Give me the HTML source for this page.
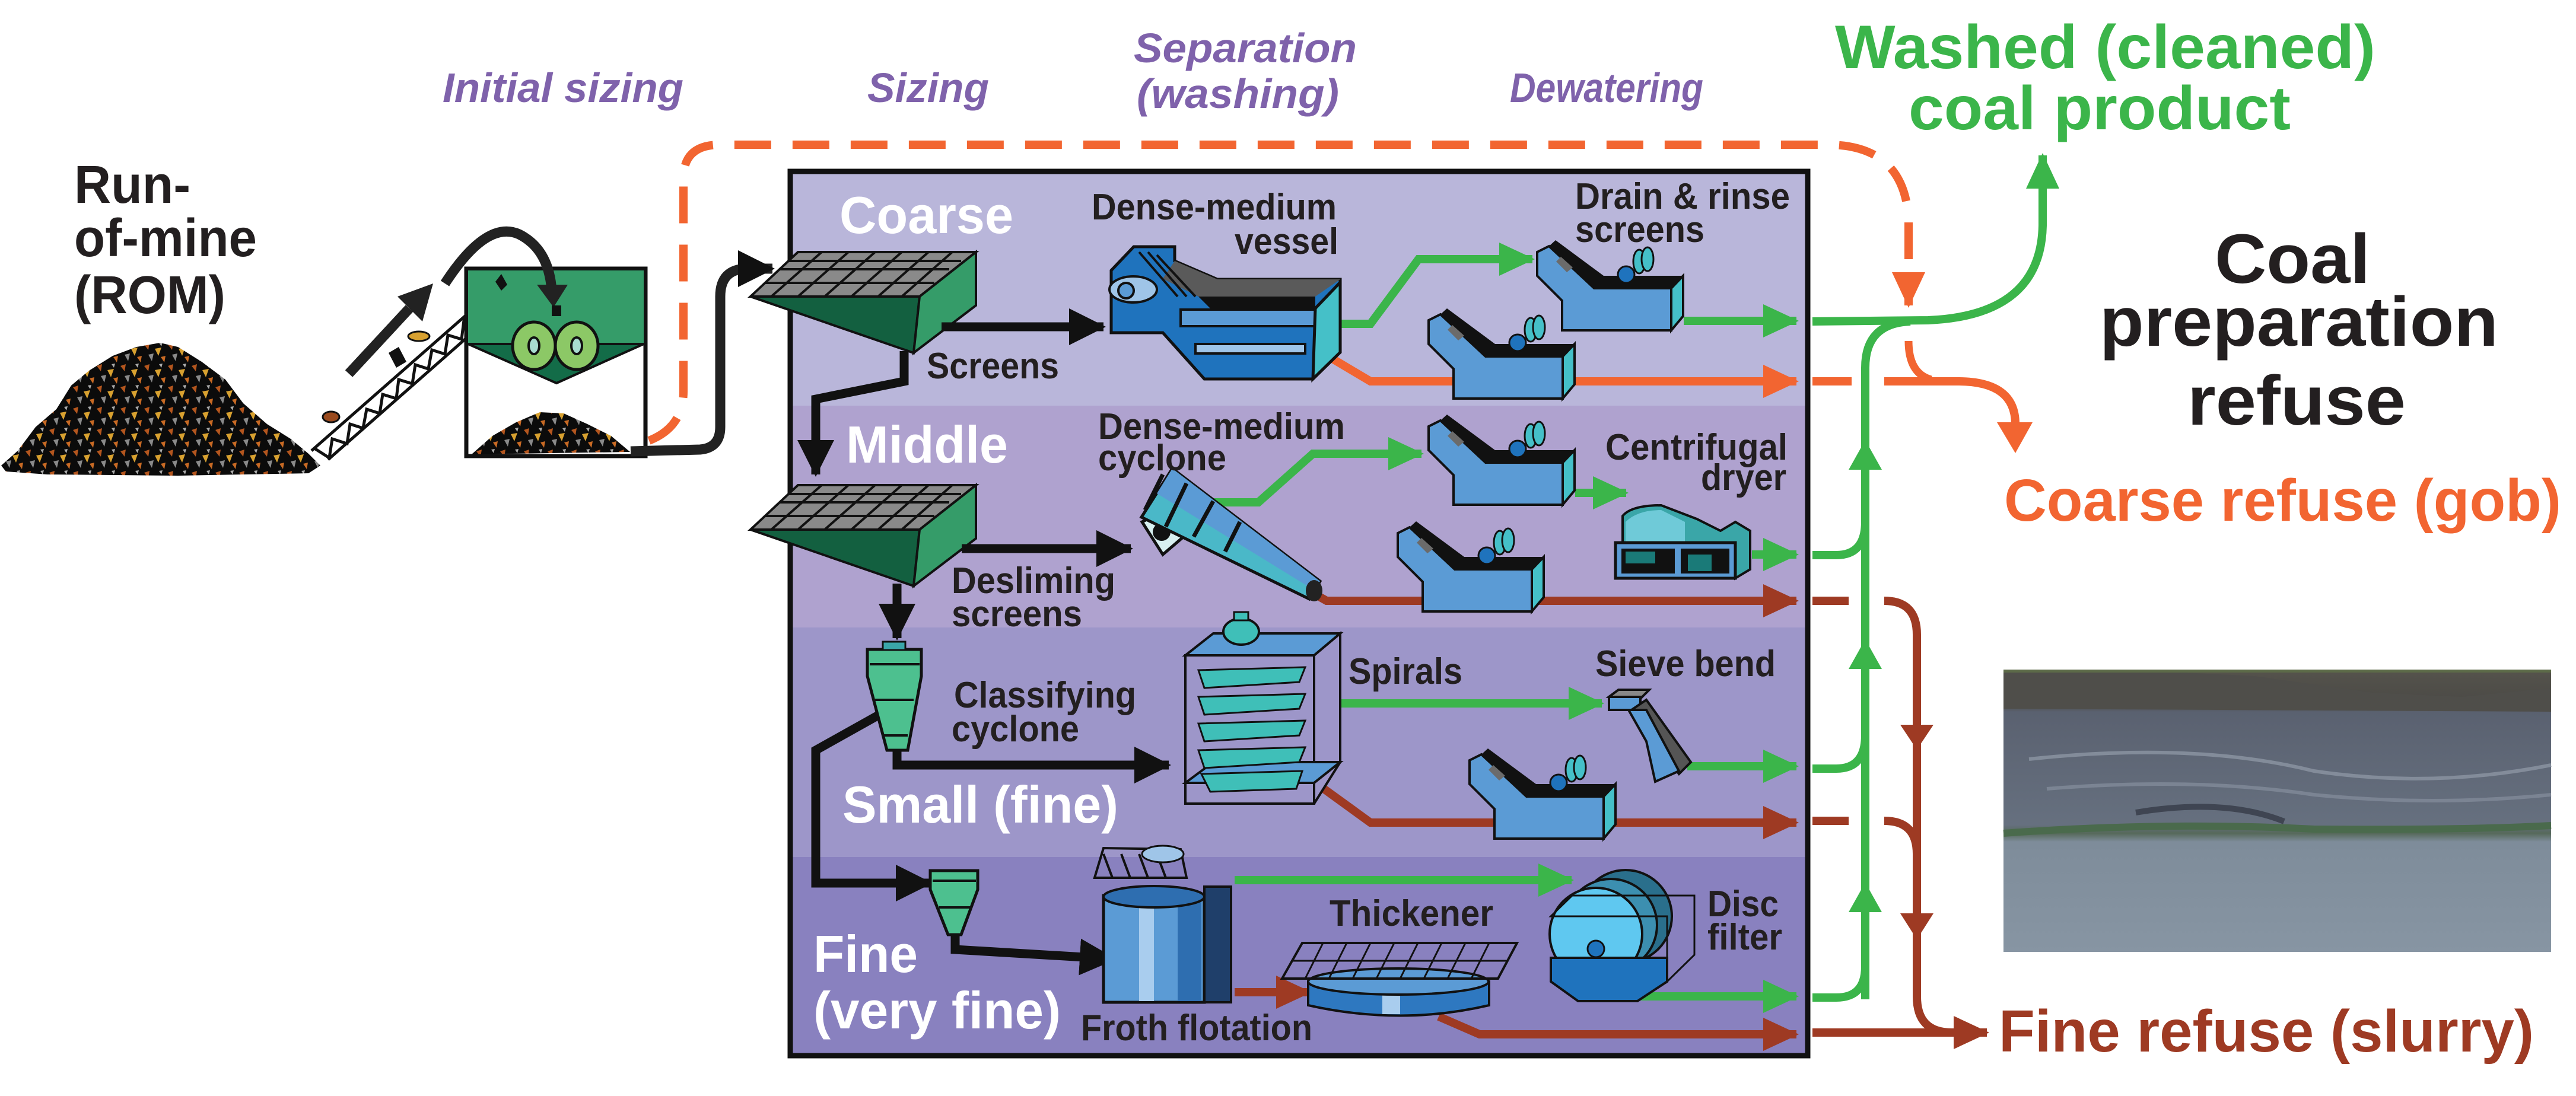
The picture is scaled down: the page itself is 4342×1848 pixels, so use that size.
<!DOCTYPE html>
<html><head><meta charset="utf-8">
<style>
html,body{margin:0;padding:0;background:#fff;}
svg{display:block;}
text{font-family:"Liberation Sans",Arial,sans-serif;font-weight:bold;}
</style></head>
<body>
<svg xmlns="http://www.w3.org/2000/svg" width="4342" height="1848" viewBox="0 0 4342 1848">
<defs>
 <marker id="ag" markerUnits="userSpaceOnUse" markerWidth="60" markerHeight="56" refX="56" refY="28" orient="auto"><path d="M0,0 L60,28 L0,56z" fill="#3bb54a"/></marker>
 <marker id="ao" markerUnits="userSpaceOnUse" markerWidth="60" markerHeight="56" refX="56" refY="28" orient="auto"><path d="M0,0 L60,28 L0,56z" fill="#f26531"/></marker>
 <marker id="ab" markerUnits="userSpaceOnUse" markerWidth="60" markerHeight="56" refX="56" refY="28" orient="auto"><path d="M0,0 L60,28 L0,56z" fill="#9e3a23"/></marker>
 <marker id="ak" markerUnits="userSpaceOnUse" markerWidth="62" markerHeight="62" refX="58" refY="31" orient="auto"><path d="M0,0 L62,31 L0,62z" fill="#111"/></marker>
 <g id="ds">
  <polygon points="0,22 0,62 42,104 42,154 226,154 226,83 96,83 20,12" fill="#5b9bd5" stroke="#111" stroke-width="4"/>
  <polygon points="20,12 31,2 112,62 246,62 226,83 96,83" fill="#111"/>
  <polygon points="40,30 60,48 50,56 32,38" fill="#6b6b6b"/>
  <polygon points="226,83 246,62 246,130 226,154" fill="#45c0c8" stroke="#111" stroke-width="4"/>
  <circle cx="150" cy="60" r="14" fill="#1f73bd" stroke="#111" stroke-width="3"/>
  <ellipse cx="172" cy="38" rx="10" ry="20" fill="#45c0c8" stroke="#111" stroke-width="3"/>
  <ellipse cx="186" cy="34" rx="10" ry="20" fill="#45c0c8" stroke="#111" stroke-width="3"/>
 </g>
 <g id="scr">
  <polygon points="1265,500 1345,425 1645,425 1550,500" fill="#8a8a8a" stroke="#111" stroke-width="4"/>
  <path d="M1290,477 L1575,477 M1315,454 L1600,454 M1330,440 L1620,440 M1300,500 L1385,425 M1345,500 L1430,425 M1390,500 L1475,425 M1435,500 L1520,425 M1480,500 L1565,425 M1520,500 L1605,425" stroke="#111" stroke-width="4"/>
  <polygon points="1265,500 1550,500 1540,595" fill="#136040" stroke="#111" stroke-width="4"/>
  <polygon points="1550,500 1645,425 1645,515 1540,595" fill="#359c69" stroke="#111" stroke-width="4"/>
 </g>
 <pattern id="rock" width="40" height="36" patternUnits="userSpaceOnUse">
  <rect width="40" height="36" fill="#0b0b0b"/>
  <polygon points="3,5 12,2 10,14" fill="#b4561e"/>
  <polygon points="21,12 32,10 27,24" fill="#d8a130"/>
  <polygon points="10,22 19,20 16,33" fill="#8a8a8a"/>
  <polygon points="31,26 39,24 37,35" fill="#c86a24"/>
  <polygon points="28,2 34,1 32,8" fill="#aaaaaa"/>
 </pattern>
 <linearGradient id="photo" x1="0" y1="0" x2="0" y2="1">
  <stop offset="0" stop-color="#55534c"/>
  <stop offset="0.12" stop-color="#4b4a46"/>
  <stop offset="0.15" stop-color="#5a6170"/>
  <stop offset="0.55" stop-color="#66707f"/>
  <stop offset="0.58" stop-color="#56695a"/>
  <stop offset="0.61" stop-color="#7e8c9a"/>
  <stop offset="1" stop-color="#8795a3"/>
 </linearGradient>
</defs>

<!-- main box bands -->
<rect x="1332" y="289" width="1715" height="395" fill="#b9b6da"/>
<rect x="1332" y="684" width="1715" height="374" fill="#afa2cf"/>
<rect x="1332" y="1058" width="1715" height="387" fill="#9d96c9"/>
<rect x="1332" y="1445" width="1715" height="335" fill="#8981bf"/>
<rect x="1332" y="289" width="1715" height="1491" fill="none" stroke="#111" stroke-width="9"/>

<!-- top labels -->
<g fill="#7f62ab" font-style="italic" font-size="70">
 <text x="746" y="172" textLength="406" lengthAdjust="spacingAndGlyphs">Initial sizing</text>
 <text x="1462" y="172" textLength="205" lengthAdjust="spacingAndGlyphs">Sizing</text>
 <text x="1911" y="105" textLength="376" lengthAdjust="spacingAndGlyphs">Separation</text>
 <text x="1916" y="182" textLength="341" lengthAdjust="spacingAndGlyphs">(washing)</text>
 <text x="2545" y="172" textLength="326" lengthAdjust="spacingAndGlyphs">Dewatering</text>
</g>

<!-- ROM -->
<g fill="#231f20" font-size="90">
 <text x="125" y="342" textLength="196" lengthAdjust="spacingAndGlyphs">Run-</text>
 <text x="125" y="432" textLength="308" lengthAdjust="spacingAndGlyphs">of-mine</text>
 <text x="125" y="528" textLength="255" lengthAdjust="spacingAndGlyphs">(ROM)</text>
</g>
<path d="M2,785 L30,760 L60,720 L95,690 L120,650 L150,625 L190,600 L230,585 L270,578 L300,585 L340,610 L380,640 L410,680 L450,715 L490,740 L520,765 L540,785 L520,798 L300,802 L80,800 L10,795z" fill="url(#rock)"/>
<!-- conveyor -->
<g stroke="#111" stroke-width="5" fill="none">
 <line x1="525" y1="760" x2="835" y2="488"/>
 <line x1="553" y1="775" x2="860" y2="505"/>
 <polyline points="530,756 555,772 560,740 585,748 590,715 612,722 618,690 640,697 645,665 668,672 672,640 695,647 700,615 722,622 728,590 750,597 755,565 778,572 782,540 805,547 810,515 832,522 835,490"/>
</g>
<line x1="588" y1="630" x2="690" y2="520" stroke="#222" stroke-width="17"/>
<polygon points="670,500 730,478 712,542" fill="#222"/>
<ellipse cx="706" cy="567" rx="18" ry="8" fill="#d8a130" stroke="#111" stroke-width="3"/>
<ellipse cx="558" cy="703" rx="14" ry="9" fill="#9a4a1e" stroke="#111" stroke-width="3"/>
<polygon points="655,595 672,585 685,610 668,620" fill="#111"/>
<!-- crusher -->
<rect x="786" y="453" width="302" height="316" fill="#fff" stroke="#111" stroke-width="7"/>
<rect x="789" y="456" width="296" height="124" fill="#359c69"/>
<polygon points="789,580 1085,580 938,646" fill="#136c48" stroke="#111" stroke-width="4"/>
<ellipse cx="900" cy="583" rx="36" ry="40" fill="#8cc866" stroke="#111" stroke-width="5"/>
<ellipse cx="972" cy="583" rx="36" ry="40" fill="#8cc866" stroke="#111" stroke-width="5"/>
<ellipse cx="900" cy="583" rx="9" ry="14" fill="#a8dcd0" stroke="#111" stroke-width="4"/>
<ellipse cx="972" cy="583" rx="9" ry="14" fill="#a8dcd0" stroke="#111" stroke-width="4"/>
<path d="M795,766 L830,735 L870,712 L910,695 L950,697 L990,715 L1030,735 L1062,762z" fill="url(#rock)"/>
<path d="M750,478 Q820,370 875,395 Q925,420 930,490" fill="none" stroke="#222" stroke-width="17"/>
<polygon points="905,480 957,480 933,518" fill="#222"/>
<rect x="930" y="515" width="16" height="18" fill="#111"/>
<polygon points="835,475 845,462 855,480 845,490" fill="#111"/>

<!-- outside left connectors -->
<path d="M1094,743 Q1152,720 1152,660 L1152,300 Q1152,244 1214,244 L3080,244 Q3210,244 3217,370 L3217,515" fill="none" stroke="#f26531" stroke-width="14" stroke-dasharray="62,36" marker-end="url(#ao)"/>
<path d="M3217,575 Q3217,630 3255,640" fill="none" stroke="#f26531" stroke-width="13"/>
<path d="M1063,761 L1180,758 Q1214,755 1214,720 L1214,500 Q1214,453 1260,453 L1302,453" fill="none" stroke="#222" stroke-width="17" marker-end="url(#ak)"/>

<!-- screens -->
<use href="#scr"/>
<use href="#scr" transform="translate(0,393)"/>

<!-- black in-box arrows -->
<g fill="none" stroke="#111" stroke-width="15">
 <path d="M1587,551 L1860,551" marker-end="url(#ak)"/>
 <path d="M1524,592 L1524,643 L1375,673 L1375,800" marker-end="url(#ak)"/>
 <path d="M1621,925 L1906,925" marker-end="url(#ak)"/>
 <path d="M1512,984 L1512,1076" marker-end="url(#ak)"/>
 <path d="M1512,1260 L1512,1290 L1970,1290" marker-end="url(#ak)"/>
 <path d="M1484,1204 L1375,1265 L1375,1489 L1568,1489" marker-end="url(#ak)"/>
 <path d="M1610,1570 L1610,1601 L1878,1617" marker-end="url(#ak)"/>
</g>

<!-- in-box colored arrows -->
<g fill="none" stroke-width="14">
 <path d="M2259,546 L2310,546 L2391,437 L2583,437" stroke="#3bb54a" marker-end="url(#ag)"/>
 <path d="M2838,541 L3028,541" stroke="#3bb54a" marker-end="url(#ag)"/>
 <path d="M2046,847 L2121,847 L2213,765 L2396,765" stroke="#3bb54a" marker-end="url(#ag)"/>
 <path d="M2655,831 L2741,831" stroke="#3bb54a" marker-end="url(#ag)"/>
 <path d="M2953,935 L3028,935" stroke="#3bb54a" marker-end="url(#ag)"/>
 <path d="M2259,1186 L2700,1186" stroke="#3bb54a" marker-end="url(#ag)"/>
 <path d="M2844,1292 L3028,1292" stroke="#3bb54a" marker-end="url(#ag)"/>
 <path d="M2081,1484 L2649,1484" stroke="#3bb54a" marker-end="url(#ag)"/>
 <path d="M2741,1680 L3028,1680" stroke="#3bb54a" marker-end="url(#ag)"/>
 <path d="M2241,602 L2310,643 L3028,643" stroke="#f26531" marker-end="url(#ao)"/>
 <path d="M2213,1000 L2236,1013 L3028,1013" stroke="#9e3a23" marker-end="url(#ab)"/>
 <path d="M2230,1329 L2310,1387 L3028,1387" stroke="#9e3a23" marker-end="url(#ab)"/>
 <path d="M2081,1673 L2207,1673" stroke="#9e3a23" marker-end="url(#ab)"/>
 <path d="M2425,1714 L2494,1744 L3028,1744" stroke="#9e3a23" marker-end="url(#ab)"/>
</g>

<!-- DMV -->
<polygon points="1873,456 1911,416 1980,416 1980,440 2052,471 2259,471 2259,594 2213,639 2030,639 1960,561 1873,561" fill="#1f73bd" stroke="#111" stroke-width="5"/>
<polygon points="1980,440 2052,471 2259,471 2217,500 2020,500 1960,470" fill="#5a5a5a"/>
<polygon points="2020,500 2217,500 2217,520 2040,520" fill="#111"/>
<rect x="1990" y="522" width="227" height="28" fill="#5b9bd5" stroke="#111" stroke-width="4"/>
<rect x="2015" y="580" width="185" height="16" fill="#9fc5e8" stroke="#111" stroke-width="4"/>
<polygon points="2217,520 2259,476 2259,594 2213,639" fill="#45c0c8" stroke="#111" stroke-width="5"/>
<path d="M1920,425 L1985,500 M1935,425 L2000,500 M1950,430 L2015,500" stroke="#111" stroke-width="4"/>
<ellipse cx="1910" cy="488" rx="40" ry="22" fill="#9fc5e8" stroke="#111" stroke-width="4"/>
<circle cx="1898" cy="490" r="13" fill="#5b9bd5" stroke="#111" stroke-width="4"/>

<!-- drain screens -->
<use href="#ds" transform="translate(2591,403)"/>
<use href="#ds" transform="translate(2408,518)"/>
<use href="#ds" transform="translate(2408,697)"/>
<use href="#ds" transform="translate(2356,877)"/>
<use href="#ds" transform="translate(2477,1260)"/>

<!-- DM cyclone -->
<polygon points="1925,880 1965,860 1995,905 1960,935" fill="#d8f0f0" stroke="#111" stroke-width="5"/>
<circle cx="1958" cy="897" r="15" fill="#111"/>
<polygon points="1924,872 1976,790 2225,980 2207,1010" fill="#4ab8c8" stroke="#111" stroke-width="5"/>
<polygon points="1950,832 1976,790 2225,980 2215,995" fill="#5b9bd5"/>
<path d="M1960,800 L1930,860 M2000,815 L1965,888 M2045,845 L2012,905 M2090,880 L2065,930" stroke="#111" stroke-width="7"/>
<ellipse cx="2215" cy="996" rx="14" ry="18" fill="#222"/>

<!-- centrifugal dryer -->
<path d="M2735,915 L2735,870 Q2750,852 2800,852 L2860,875 L2900,895 L2925,880 L2950,895 L2950,960 L2925,975 L2925,915z" fill="#3aa6a8" stroke="#111" stroke-width="4"/>
<path d="M2740,880 Q2760,860 2800,860 L2840,880 L2840,915 L2740,915z" fill="#6fcad8"/>
<rect x="2723" y="915" width="202" height="60" fill="#5b9bd5" stroke="#111" stroke-width="5"/>
<rect x="2733" y="925" width="90" height="42" fill="#111"/>
<rect x="2833" y="925" width="82" height="42" fill="#111"/>
<rect x="2740" y="930" width="50" height="20" fill="#1a7a78"/>
<rect x="2845" y="935" width="40" height="28" fill="#1a7a78"/>

<!-- classifying cyclone -->
<polygon points="1462,1095 1553,1095 1553,1140 1530,1265 1495,1265 1462,1140" fill="#4dc08f" stroke="#111" stroke-width="5"/>
<rect x="1488" y="1082" width="38" height="14" fill="#3aa6a8" stroke="#111" stroke-width="3"/>
<path d="M1466,1120 L1550,1120 M1475,1180 L1540,1180 M1490,1240 L1530,1240" stroke="#111" stroke-width="4"/>
<!-- small cyclone -->
<polygon points="1568,1468 1648,1468 1648,1500 1620,1576 1598,1576 1568,1500" fill="#4dc08f" stroke="#111" stroke-width="5"/>
<path d="M1572,1485 L1645,1485 M1583,1530 L1635,1530" stroke="#111" stroke-width="4"/>

<!-- spirals -->
<polygon points="1998,1105 2045,1068 2259,1068 2215,1105" fill="#5b9bd5" stroke="#111" stroke-width="4"/>
<rect x="1998" y="1105" width="217" height="250" fill="none" stroke="#111" stroke-width="4"/>
<polygon points="1998,1320 2045,1285 2259,1285 2215,1320" fill="#5b9bd5" stroke="#111" stroke-width="4"/>
<path d="M2215,1105 L2259,1068 L2259,1285 L2215,1355" fill="none" stroke="#111" stroke-width="4"/>
<g fill="#3fbfb8" stroke="#111" stroke-width="3">
 <polygon points="2020,1130 2200,1125 2190,1150 2030,1160"/>
 <polygon points="2020,1175 2200,1170 2190,1195 2030,1205"/>
 <polygon points="2020,1220 2200,1215 2190,1240 2030,1250"/>
 <polygon points="2020,1265 2200,1260 2190,1285 2030,1295"/>
 <polygon points="2025,1305 2195,1300 2185,1330 2040,1335"/>
</g>
<ellipse cx="2092" cy="1065" rx="30" ry="22" fill="#3fbfb8" stroke="#111" stroke-width="4"/>
<rect x="2080" y="1032" width="24" height="14" fill="#3fbfb8" stroke="#111" stroke-width="3"/>

<!-- sieve bend -->
<polygon points="2712,1175 2728,1163 2780,1163 2765,1178" fill="#888" stroke="#111" stroke-width="4"/>
<rect x="2712" y="1175" width="53" height="22" fill="#5b9bd5" stroke="#111" stroke-width="4"/>
<polygon points="2750,1197 2775,1180 2850,1285 2830,1305" fill="#555" stroke="#111" stroke-width="4"/>
<polygon points="2745,1197 2775,1197 2830,1300 2790,1318 2775,1250" fill="#5b9bd5" stroke="#111" stroke-width="4"/>

<!-- froth flotation -->
<path d="M1845,1480 L1860,1430 L1990,1432 L2000,1480z M1860,1440 L1875,1480 M1890,1440 L1905,1480 M1920,1440 L1935,1480 M1950,1440 L1965,1480" fill="none" stroke="#111" stroke-width="4"/>
<ellipse cx="1960" cy="1440" rx="35" ry="14" fill="#9fc5e8" stroke="#111" stroke-width="3"/>
<rect x="1860" y="1510" width="170" height="180" fill="#5b9bd5" stroke="#111" stroke-width="5"/>
<rect x="1920" y="1512" width="25" height="176" fill="#a9cdee"/>
<rect x="1985" y="1512" width="40" height="176" fill="#2e6eb0"/>
<ellipse cx="1945" cy="1512" rx="85" ry="18" fill="#2e6eb0" stroke="#111" stroke-width="4"/>
<rect x="2030" y="1495" width="45" height="195" fill="#1f3f6a" stroke="#111" stroke-width="4"/>
<!-- thickener -->
<path d="M2205,1655 L2205,1695 Q2360,1730 2510,1695 L2510,1655z" fill="#2e78c0" stroke="#111" stroke-width="4"/>
<rect x="2330" y="1660" width="30" height="50" fill="#a9cdee"/>
<ellipse cx="2357" cy="1655" rx="152" ry="22" fill="#5b9bd5" stroke="#111" stroke-width="4"/>
<polygon points="2161,1650 2195,1590 2557,1590 2525,1650" fill="none" stroke="#111" stroke-width="4"/>
<path d="M2180,1620 L2540,1620 M2200,1650 L2230,1590 M2240,1650 L2270,1590 M2280,1650 L2310,1590 M2320,1650 L2350,1590 M2360,1650 L2390,1590 M2400,1650 L2430,1590 M2440,1650 L2470,1590 M2480,1650 L2510,1590" stroke="#111" stroke-width="3"/>
<!-- disc filter -->
<circle cx="2740" cy="1545" r="78" fill="#2a6f8c" stroke="#111" stroke-width="4"/>
<circle cx="2715" cy="1560" r="78" fill="#3c8fb0" stroke="#111" stroke-width="4"/>
<circle cx="2690" cy="1575" r="78" fill="#5fc8f0" stroke="#111" stroke-width="4"/>
<circle cx="2690" cy="1600" r="14" fill="#1f73bd" stroke="#111" stroke-width="3"/>
<polygon points="2614,1615 2810,1615 2810,1655 2760,1688 2660,1688 2614,1655" fill="#1f73bd" stroke="#111" stroke-width="4"/>
<polygon points="2614,1545 2650,1510 2856,1510 2856,1610 2810,1655 2810,1545" fill="none" stroke="#111" stroke-width="3"/>

<!-- box labels -->
<g fill="#fff" font-size="88">
 <text x="1415" y="393" textLength="293" lengthAdjust="spacingAndGlyphs">Coarse</text>
 <text x="1426" y="780" textLength="273" lengthAdjust="spacingAndGlyphs">Middle</text>
 <text x="1420" y="1387" textLength="465" lengthAdjust="spacingAndGlyphs">Small (fine)</text>
 <text x="1371" y="1639" textLength="176" lengthAdjust="spacingAndGlyphs">Fine</text>
 <text x="1371" y="1734" textLength="417" lengthAdjust="spacingAndGlyphs">(very fine)</text>
</g>
<g fill="#231f20" font-size="62">
 <text x="1840" y="370" textLength="413" lengthAdjust="spacingAndGlyphs">Dense-medium</text>
 <text x="2081" y="428" textLength="175" lengthAdjust="spacingAndGlyphs">vessel</text>
 <text x="2655" y="352" textLength="362" lengthAdjust="spacingAndGlyphs">Drain &amp; rinse</text>
 <text x="2655" y="408" textLength="218" lengthAdjust="spacingAndGlyphs">screens</text>
 <text x="1562" y="638" textLength="223" lengthAdjust="spacingAndGlyphs">Screens</text>
 <text x="1851" y="740" textLength="416" lengthAdjust="spacingAndGlyphs">Dense-medium</text>
 <text x="1851" y="793" textLength="216" lengthAdjust="spacingAndGlyphs">cyclone</text>
 <text x="2706" y="775" textLength="307" lengthAdjust="spacingAndGlyphs">Centrifugal</text>
 <text x="2867" y="826" textLength="144" lengthAdjust="spacingAndGlyphs">dryer</text>
 <text x="1604" y="1000" textLength="276" lengthAdjust="spacingAndGlyphs">Desliming</text>
 <text x="1604" y="1056" textLength="220" lengthAdjust="spacingAndGlyphs">screens</text>
 <text x="1608" y="1193" textLength="307" lengthAdjust="spacingAndGlyphs">Classifying</text>
 <text x="1604" y="1250" textLength="215" lengthAdjust="spacingAndGlyphs">cyclone</text>
 <text x="2273" y="1153" textLength="192" lengthAdjust="spacingAndGlyphs">Spirals</text>
 <text x="2689" y="1140" textLength="304" lengthAdjust="spacingAndGlyphs">Sieve bend</text>
 <text x="2241" y="1561" textLength="276" lengthAdjust="spacingAndGlyphs">Thickener</text>
 <text x="2878" y="1545" textLength="120" lengthAdjust="spacingAndGlyphs">Disc</text>
 <text x="2878" y="1601" textLength="126" lengthAdjust="spacingAndGlyphs">filter</text>
 <text x="1822" y="1754" textLength="390" lengthAdjust="spacingAndGlyphs">Froth flotation</text>
</g>

<!-- right side connectors -->
<g fill="none" stroke-width="14">
 <path d="M3055,542 L3250,540 Q3440,532 3443,380 L3443,262" stroke="#3bb54a" marker-end="url(#ag)"/>
 <path d="M3144,1685 L3144,620 Q3144,545 3220,542" stroke="#3bb54a"/>
 <path d="M3055,936 L3095,936 Q3144,936 3144,880" stroke="#3bb54a"/>
 <path d="M3055,1296 L3095,1296 Q3144,1296 3144,1240" stroke="#3bb54a"/>
 <path d="M3055,1682 L3095,1682 Q3144,1682 3144,1630" stroke="#3bb54a"/>
 <path d="M3055,643 L3121,643 M3176,643 L3300,643 Q3397,643 3397,715" stroke="#f26531"/>
 <path d="M3055,1013 L3116,1013 M3176,1013 Q3231,1013 3231,1070 L3231,1680 Q3231,1741 3290,1741" stroke="#9e3a23"/>
 <path d="M3055,1384 L3116,1384 M3176,1384 Q3231,1384 3231,1440" stroke="#9e3a23"/>
 <path d="M3055,1741 L3349,1741" stroke="#9e3a23" marker-end="url(#ab)"/>
</g>
<polygon points="3366,712 3426,712 3397,764" fill="#f26531"/>
<g fill="#3bb54a">
 <polygon points="3116,792 3172,792 3144,742"/>
 <polygon points="3116,1128 3172,1128 3144,1078"/>
 <polygon points="3116,1538 3172,1538 3144,1488"/>
</g>
<g fill="#9e3a23">
 <polygon points="3203,1222 3259,1222 3231,1264"/>
 <polygon points="3203,1540 3259,1540 3231,1584"/>
</g>

<!-- right texts -->
<g font-size="104" fill="#3bb54a">
 <text x="3093" y="115" textLength="911" lengthAdjust="spacingAndGlyphs">Washed (cleaned)</text>
 <text x="3217" y="218" textLength="644" lengthAdjust="spacingAndGlyphs">coal product</text>
</g>
<g font-size="118" fill="#231f20">
 <text x="3733" y="477" textLength="262" lengthAdjust="spacingAndGlyphs">Coal</text>
 <text x="3539" y="583" textLength="672" lengthAdjust="spacingAndGlyphs">preparation</text>
 <text x="3687" y="716" textLength="368" lengthAdjust="spacingAndGlyphs">refuse</text>
</g>
<text x="3378" y="878" font-size="100" fill="#f26531" textLength="939" lengthAdjust="spacingAndGlyphs">Coarse refuse (gob)</text>
<text x="3369" y="1773" font-size="100" fill="#9e3a23" textLength="902" lengthAdjust="spacingAndGlyphs">Fine refuse (slurry)</text>

<!-- photo -->
<rect x="3377" y="1129" width="923" height="476" fill="url(#photo)"/>
<path d="M3377,1132 L3600,1130 L3800,1140 L4000,1168 L4150,1175 L4300,1160 L4300,1200 L3377,1195z" fill="#4f4e4a"/>
<path d="M3377,1129 L4300,1129 L4300,1134 L3377,1134z" fill="#5c6a48"/>
<path d="M3420,1280 Q3700,1250 3900,1300 Q4100,1330 4300,1290" fill="none" stroke="#838c9a" stroke-width="6"/>
<path d="M3450,1330 Q3700,1310 3900,1340 Q4100,1360 4300,1340" fill="none" stroke="#7b8493" stroke-width="6"/>
<path d="M3600,1370 Q3750,1345 3850,1385" fill="none" stroke="#3f4552" stroke-width="10"/>
<path d="M3377,1405 Q3650,1385 3900,1398 Q4150,1400 4300,1392" fill="none" stroke="#4a6a4c" stroke-width="12"/>
</svg>
</body></html>
